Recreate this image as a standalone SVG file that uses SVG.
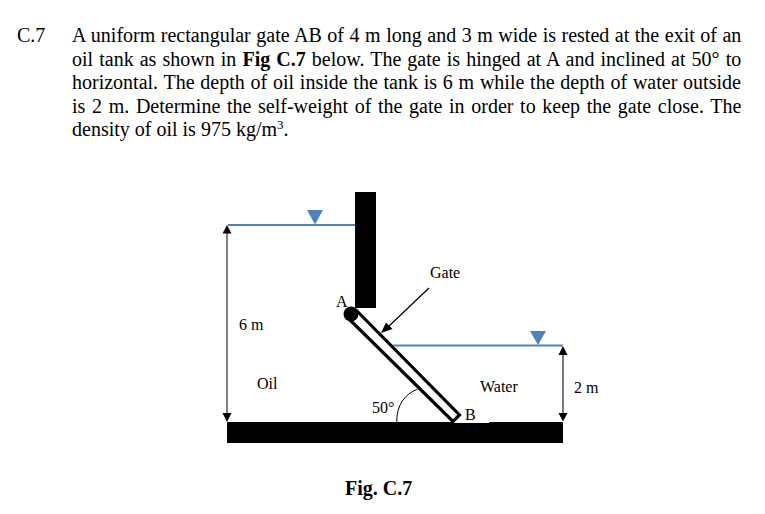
<svg xmlns="http://www.w3.org/2000/svg" width="765" height="514" viewBox="0 0 765 514">
<style>
text{font-family:"Liberation Serif","Times New Roman",serif;fill:#000}
.p{font-size:20px}
.l{font-size:16px}
.blue{stroke:#4f81bd;stroke-width:2.2;fill:none}
.tri{fill:#4f81bd}
.dim{stroke:#555;stroke-width:1.5;fill:none}
.head{fill:#000}
</style>
<rect width="765" height="514" fill="#fff"/>
<g id="question">
<text class="p" x="17" y="42">C.7</text>
<text class="p" x="72" y="42" word-spacing="0.53">A uniform rectangular gate AB of 4 m long and 3 m wide is rested at the exit of an</text>
<text class="p" x="72" y="65.500" word-spacing="1.09">oil tank as shown in <tspan font-weight="bold">Fig C.7</tspan> below. The gate is hinged at A and inclined at 50° to</text>
<text class="p" x="72" y="89" word-spacing="0.76">horizontal. The depth of oil inside the tank is 6 m while the depth of water outside</text>
<text class="p" x="72" y="112.500" word-spacing="1.66">is 2 m. Determine the self-weight of the gate in order to keep the gate close. The</text>
<text class="p" x="72" y="136">density of oil is 975 kg/m<tspan font-size="13" dy="-7">3</tspan><tspan dy="7">.</tspan></text>
</g>
<g id="wall"><rect x="355" y="192" width="21" height="116" fill="#000"/></g>
<g id="floor"><path d="M227 422H453V423H489V422H563V443H227Z" fill="#000"/></g>
<g id="gate">
<polygon points="357,311 459.500,415 453,421.500 351,321" fill="#fff" stroke="#000" stroke-width="3.200"/>
<circle cx="351" cy="314" r="7.500" fill="#000"/>
</g>
<g id="connectors">
<line class="blue" x1="228" y1="225" x2="355" y2="225"/>
<polygon class="tri" points="307,210 323,210 315,224.500"/>
<line class="blue" x1="393" y1="345.500" x2="563" y2="345.500"/>
<polygon class="tri" points="530,331 546,331 538,345"/>
<line class="dim" x1="227" y1="232" x2="227" y2="415"/>
<polygon class="head" points="227,225 222.500,233.500 231.500,233.500"/>
<polygon class="head" points="227,422 222.500,413 231.500,413"/>
<line x1="563" y1="352" x2="563" y2="415" stroke="#222" stroke-width="1.200"/>
<polygon class="head" points="563,346 558.500,355 567.500,355"/>
<polygon class="head" points="563,421.500 558.500,413 567.500,413"/>
<line x1="429" y1="288" x2="388" y2="327" stroke="#000" stroke-width="1.200"/>
<polygon class="head" points="381,333 386,322.500 392.500,329"/>
<path d="M396.700 422C396.500 405 405 394 417.300 389.300" fill="none" stroke="#000" stroke-width="1"/>
</g>
<g id="labels">
<text class="l" x="239" y="330">6 m</text>
<text class="l" x="257" y="389">Oil</text>
<text class="l" x="336" y="307">A</text>
<text class="l" x="430" y="278">Gate</text>
<text class="l" x="372" y="413">50°</text>
<text class="l" x="465" y="420">B</text>
<text class="l" x="480" y="392">Water</text>
<text class="l" x="574" y="393">2 m</text>
<text x="345" y="495" font-size="20" font-weight="bold">Fig. C.7</text>
</g>
</svg>
